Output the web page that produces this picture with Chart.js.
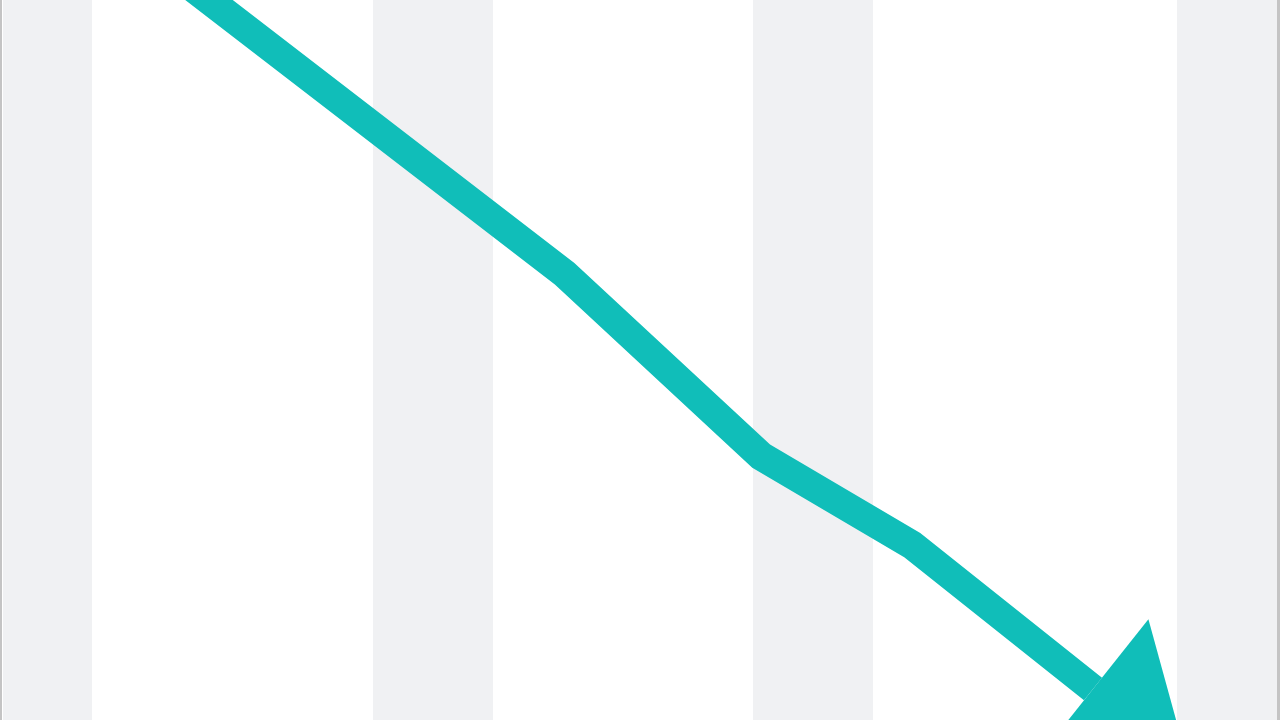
<!DOCTYPE html>
<html>
<head>
<meta charset="utf-8">
<script src="https://cdn.jsdelivr.net/npm/chart.js@4/dist/chart.umd.min.js"></script>
<style>
  html, body { margin: 0; padding: 0; background: #ffffff; }
  #wrap { width: 1280px; height: 720px; position: relative; }
</style>
</head>
<body>
<div id="wrap"><canvas id="myChart"></canvas></div>
<script>
// trend line (x across, y up)
const trendX = [17, 56.5, 76.1, 91.2, 109.3];
const trendY = [75, 44.6, 26.4, 17.5, 3.1];

// light vertical bands behind the line
const bandStart = [0.3, 37.3, 75.3, 117.7];
const bandEnd = [9.2, 49.3, 87.3, 127.7];

const teal = "#10beb9";

const bandsPlugin = {
  id: "bands",
  beforeDatasetsDraw(chart) {
    const ctx = chart.ctx;
    const xs = chart.scales.x;
    const area = chart.chartArea;
    ctx.save();
    ctx.fillStyle = "#f0f1f3";
    for (let i = 0; i < bandStart.length; i++) {
      const a = xs.getPixelForValue(bandStart[i]);
      const b = xs.getPixelForValue(bandEnd[i]);
      ctx.fillRect(a, area.top, b - a, area.bottom - area.top);
    }
    // thin frame lines at the edges
    ctx.fillStyle = "#c4c4c4";
    ctx.fillRect(area.left, area.top, 2, area.bottom - area.top);
    ctx.fillRect(area.right - 3, area.top, 3, area.bottom - area.top);
    ctx.restore();
  },
};

const arrowPlugin = {
  id: "arrowHead",
  afterDatasetsDraw(chart) {
    const pts = chart.getDatasetMeta(0).data;
    const n = pts.length;
    const p1 = pts[n - 2];
    const p2 = pts[n - 1];
    const dx = p2.x - p1.x;
    const dy = p2.y - p1.y;
    const len = Math.sqrt(dx * dx + dy * dy);
    const ux = dx / len;
    const uy = dy / len;
    const half = 89;
    const head = 122;
    const ctx = chart.ctx;
    ctx.save();
    ctx.fillStyle = teal;
    ctx.beginPath();
    ctx.moveTo(p2.x + uy * half, p2.y - ux * half);
    ctx.lineTo(p2.x + ux * head, p2.y + uy * head);
    ctx.lineTo(p2.x - uy * half, p2.y + ux * half);
    ctx.closePath();
    ctx.fill();
    ctx.restore();
  },
};

let ctx = document.getElementById("myChart").getContext("2d");
let myChart = new Chart(ctx, {
  type: "line",
  data: {
    datasets: [
      {
        data: trendX.map((x, i) => ({ x: x, y: trendY[i] })),
        borderColor: teal,
        borderWidth: 29,
        borderJoinStyle: "miter",
        borderCapStyle: "butt",
        pointRadius: 0,
        tension: 0,
        fill: false,
      },
    ],
  },
  options: {
    responsive: true,
    maintainAspectRatio: false,
    animation: false,
    layout: { padding: 0 },
    plugins: {
      legend: { display: false },
      tooltip: { enabled: false },
    },
    scales: {
      x: { type: "linear", min: 0, max: 128, display: false },
      y: { type: "linear", min: 0, max: 72, display: false },
    },
  },
  plugins: [bandsPlugin, arrowPlugin],
});
</script>
</body>
</html>
